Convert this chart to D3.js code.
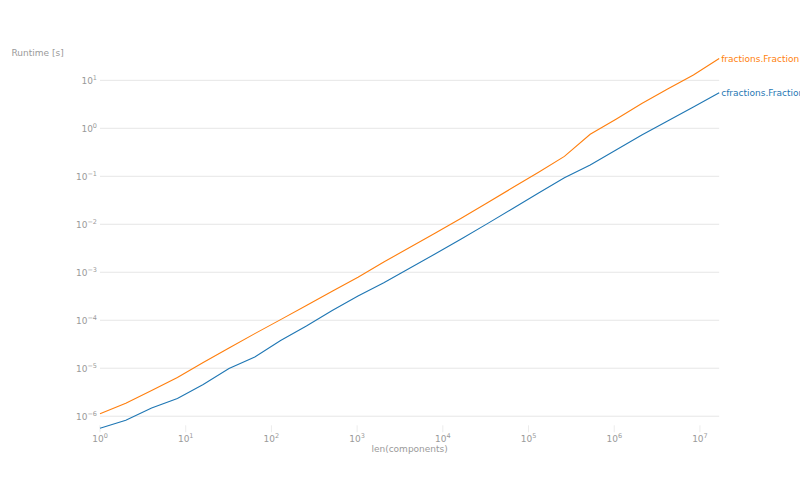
<!DOCTYPE html>
<html>
<head>
<meta charset="utf-8">
<script src="https://cdn.jsdelivr.net/npm/d3@7"></script>
<style>
  html, body { margin: 0; padding: 0; background: #fff; }
  svg { display: block; font-family: "DejaVu Sans", sans-serif; }
</style>
</head>
<body>
<svg width="800" height="482"></svg>
<script>
// input sizes, len(components)
const sizes = [1, 2, 4, 8, 16, 32, 64, 128, 256, 512, 1024, 2048, 4096, 8192,
  16384, 32768, 65536, 131072, 262144, 524288, 1048576, 2097152, 4194304,
  8388608, 16777216];

// runtime [s]
const fractionsRuntime = [1.12e-6, 1.87e-6, 3.44e-6, 6.43e-6, 1.32e-5, 2.65e-5,
  5.26e-5, 1.03e-4, 2.03e-4, 4.02e-4, 7.9e-4, 1.64e-3, 3.27e-3, 6.6e-3,
  0.0133, 0.0278, 0.0582, 0.1216, 0.26, 0.75, 1.55, 3.29, 6.59, 12.9, 28.5];

const cfractionsRuntime = [5.6e-7, 8.2e-7, 1.49e-6, 2.35e-6, 4.6e-6, 9.9e-6,
  1.72e-5, 3.79e-5, 7.6e-5, 1.6e-4, 3.2e-4, 6.04e-4, 1.21e-3, 2.43e-3,
  4.94e-3, 0.0102, 0.0213, 0.0447, 0.093, 0.172, 0.353, 0.725, 1.42, 2.78, 5.52];

const seriesNames = ["fractions.Fraction", "cfractions.Fraction"];
const seriesColors = ["#ff7f0e", "#1f77b4"];
const xTickExps = [0, 1, 2, 3, 4, 5, 6, 7];
const yTickExps = [1, 0, -1, -2, -3, -4, -5, -6];

const series = [fractionsRuntime, cfractionsRuntime].map((vals, i) => ({
  name: seriesNames[i],
  color: seriesColors[i],
  points: vals.map((v, j) => ({ n: sizes[j], t: v }))
}));

/* -----------------------------
   Scales
----------------------------- */

const plotLeft = 100, plotRight = 719.2, plotTop = 58.5, plotBottom = 428.3;

const x = d3.scaleLog()
  .domain(d3.extent(sizes))
  .range([plotLeft, plotRight]);

const allVals = fractionsRuntime.concat(cfractionsRuntime);
const y = d3.scaleLog()
  .domain(d3.extent(allVals))
  .range([plotBottom, plotTop]);

const svg = d3.select("svg");
const grey = "#9a9a9a";

/* -----------------------------
   Grid + y ticks
----------------------------- */

const yg = svg.append("g");
yTickExps.forEach(e => {
  const yy = y(Math.pow(10, e));
  yg.append("line")
    .attr("x1", plotLeft).attr("x2", plotRight)
    .attr("y1", yy).attr("y2", yy)
    .attr("stroke", "#e6e6e6")
    .attr("stroke-width", 1);

  const t = yg.append("text")
    .attr("x", 97)
    .attr("y", yy + 4)
    .attr("text-anchor", "end")
    .attr("fill", grey)
    .attr("font-size", 9);
  t.append("tspan").text("10");
  t.append("tspan")
    .attr("dy", -4)
    .attr("font-size", 6.5)
    .text(e < 0 ? "\u2212" + (-e) : e);
});

/* -----------------------------
   x ticks
----------------------------- */

const xg = svg.append("g");
xTickExps.forEach(e => {
  const xx = x(Math.pow(10, e));
  xg.append("line")
    .attr("x1", xx).attr("x2", xx)
    .attr("y1", plotBottom - 3).attr("y2", plotBottom + 4)
    .attr("stroke", "#ececec");

  const t = xg.append("text")
    .attr("x", xx)
    .attr("y", 442)
    .attr("text-anchor", "middle")
    .attr("fill", grey)
    .attr("font-size", 9);
  t.append("tspan").text("10");
  t.append("tspan")
    .attr("dy", -4)
    .attr("font-size", 6.5)
    .text(e);
});

svg.append("text")
  .attr("x", (plotLeft + plotRight) / 2)
  .attr("y", 452)
  .attr("text-anchor", "middle")
  .attr("fill", grey)
  .attr("font-size", 9)
  .text("len(components)");

svg.append("text")
  .attr("x", 11.5)
  .attr("y", 55.5)
  .attr("fill", grey)
  .attr("font-size", 9)
  .text("Runtime [s]");

/* -----------------------------
   Lines + end labels
----------------------------- */

const line = d3.line()
  .x(d => x(d.n))
  .y(d => y(d.t));

series.forEach(s => {
  svg.append("path")
    .datum(s.points)
    .attr("fill", "none")
    .attr("stroke", s.color)
    .attr("stroke-width", 1.1)
    .attr("d", line);

  const last = s.points[s.points.length - 1];
  svg.append("text")
    .attr("x", x(last.n) + 2)
    .attr("y", y(last.t) + 3)
    .attr("fill", s.color)
    .attr("font-size", 9)
    .text(s.name);
});
</script>
</body>
</html>
